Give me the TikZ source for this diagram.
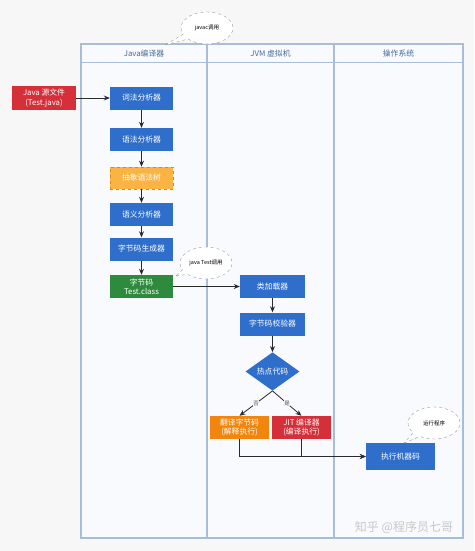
\documentclass[tikz,border=0pt]{standalone}
\usepackage{fontspec}
\setmainfont{Noto Sans CJK SC}
\usetikzlibrary{arrows.meta,positioning,shapes.geometric,shapes.callouts}
\definecolor{bgcol}{HTML}{F7F7F7}
\definecolor{lanefill}{HTML}{F8FAFD}
\definecolor{lanecol}{HTML}{A8BDD6}
\definecolor{headcol}{HTML}{4A6A9A}
\definecolor{bluecol}{HTML}{2F6FCB}
\definecolor{redcol}{HTML}{D5303A}
\definecolor{greencol}{HTML}{2E8B3E}
\definecolor{orangecol}{HTML}{F2850E}
\definecolor{astfill}{HTML}{FBB443}
\definecolor{astline}{HTML}{E0861A}
\definecolor{notecol}{HTML}{9A9A9A}
\definecolor{linecol}{HTML}{2B2B2B}

\begin{document}
\begin{tikzpicture}[x=1pt,y=-1pt,
  proc/.style={rectangle,fill=bluecol,text=white,minimum width=63pt,minimum height=23pt,inner sep=0pt,align=center,font=\fontsize{7.8}{9.5}\selectfont},
  head/.style={text=headcol,font=\fontsize{7.8}{9}\selectfont},
  lane/.style={draw=lanecol,fill=lanefill,line width=1.2pt},
  note/.style={ellipse callout,draw=notecol,dashed,fill=white,minimum width=52pt,minimum height=32pt,inner sep=0pt,callout pointer arc=20,font=\fontsize{5.5}{6}\selectfont},
  flow/.style={-{Stealth[length=6pt,width=5pt]},draw=linecol,line width=0.8pt},
  lbl/.style={font=\fontsize{5.5}{6}\selectfont,text=black!70,fill=lanefill,inner sep=0.5pt}
]
\fill[bgcol] (0,0) rectangle (474,551);
\useasboundingbox (0,0) rectangle (474,551);

% swimlanes
\draw[lane] (81,44) rectangle (207,538);
\draw[lane] (207,44) rectangle (334,538);
\draw[lane] (334,44) rectangle (463,538);
\draw[lanecol,line width=1pt] (81,63) -- (463,63);
\node[head] (h1) at (144,54) {Java编译器};
\node[head] (h2) at (270.5,54) {JVM 虚拟机};
\node[head] (h3) at (398.5,54) {操作系统};

% java compiler
\node[proc,fill=redcol,minimum width=64pt,minimum height=24pt] (src) at (44,98) {Java 源文件\\(Test.java)};
\node[proc] (lex) at (141.5,98) {词法分析器};
\node[proc] (syn) at (141.5,139.5) {语法分析器};
\node[proc,fill=astfill,draw=astline,dashed,line width=0.7pt,minimum height=22pt] (ast) at (141.5,178) {抽象语法树};
\node[proc] (sem) at (141.5,214.5) {语义分析器};
\node[proc] (gen) at (141.5,249) {字节码生成器};
\node[proc,fill=greencol] (cls) at (141.5,286.5) {字节码\\Test.class};

% jvm
\node[proc,minimum width=65pt] (load) at (272.5,286.5) {类加载器};
\node[proc,minimum width=65pt] (chk) at (272.5,324) {字节码校验器};
\node[diamond,fill=bluecol,text=white,inner sep=0pt,minimum width=54pt,minimum height=36pt,font=\fontsize{7.8}{9}\selectfont] (hot) at (272.5,371.5) {热点代码};
\node[proc,fill=orangecol,minimum width=59pt] (interp) at (239.5,427.5) {翻译字节码\\(解释执行)};
\node[proc,fill=redcol,minimum width=59pt] (jit) at (301.5,427.5) {JIT 编译器\\(编译执行)};

% os
\node[proc,minimum width=69pt,minimum height=27pt] (exec) at (400.5,456.5) {执行机器码};

% notes
\node[note,callout absolute pointer={(165,45)}] (n1) at (207,28) {javac调用};
\node[note,callout absolute pointer={(176,276)}] (n2) at (206,263) {java Test调用};
\node[note,callout absolute pointer={(404,443)}] (n3) at (434,423) {运行程序};

% flows
\draw[flow] (src) -- (lex);
\draw[flow] (lex) -- (syn);
\draw[flow] (syn) -- (ast);
\draw[flow] (ast) -- (sem);
\draw[flow] (sem) -- (gen);
\draw[flow] (gen) -- (cls);
\draw[flow] (cls) -- (load);
\draw[flow] (load) -- (chk);
\draw[flow] (chk) -- (hot);
\draw[flow] (hot.south) -- (interp.north) node[lbl,midway] {否};
\draw[flow] (hot.south) -- (jit.north) node[lbl,midway] {是};
\draw[flow] (interp.south) |- (exec.west);
\draw[flow] (jit.south) |- (exec.west);

\node[text=black!22,font=\fontsize{12}{14}\selectfont] (wm) at (404,527) {知乎 @程序员七哥};
\end{tikzpicture}
\end{document}
